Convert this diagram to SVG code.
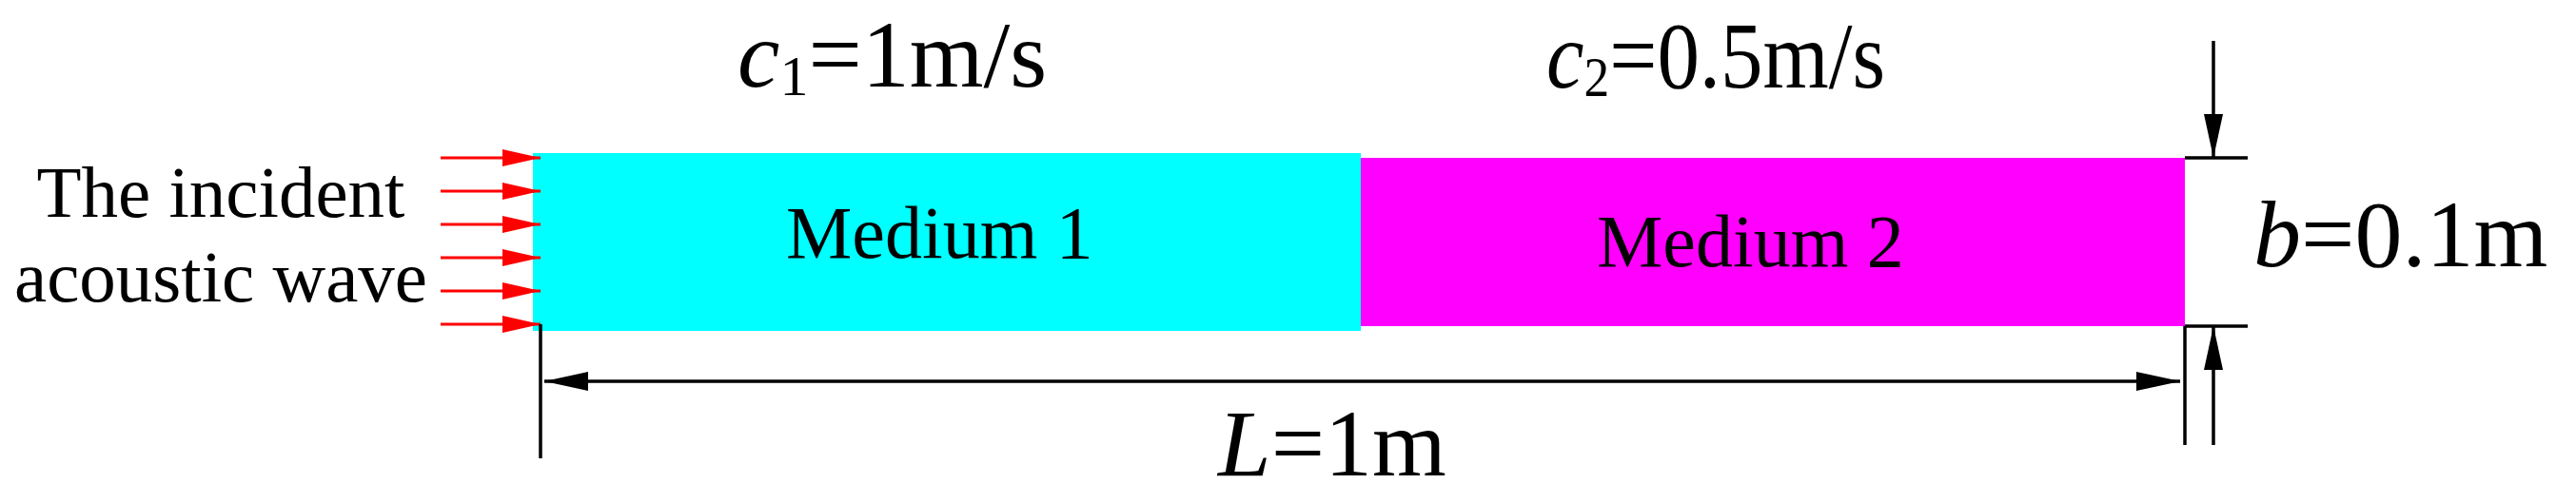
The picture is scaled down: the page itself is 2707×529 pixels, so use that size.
<svg xmlns="http://www.w3.org/2000/svg" width="2707" height="529" viewBox="0 0 2707 529">
<style>
text{font-family:"Liberation Serif","Times New Roman",serif;fill:#000}
.lbl{font-size:100px}
.med{font-size:78px}
.inc{font-size:77px}
.it{font-style:italic}
.dim{stroke:#000;stroke-width:3.5;fill:none}
.red{stroke:#ff0000;stroke-width:3;fill:none}
</style>
<defs>
<marker id="ahb" markerUnits="userSpaceOnUse" markerWidth="60" markerHeight="30" viewBox="-50 -15 55 30" refX="0" refY="0" orient="auto-start-reverse">
<path d="M0,0 L-46,-10 L-46,10 Z" fill="#000"/>
</marker>
<marker id="ahr" markerUnits="userSpaceOnUse" markerWidth="50" markerHeight="24" viewBox="-45 -12 48 24" refX="0" refY="0" orient="auto">
<path d="M0,0 L-40,-9 L-40,9 Z" fill="#ff0000"/>
</marker>
</defs>
<g id="medium1">
<rect x="560" y="161" width="870" height="187" fill="#00ffff"/>
<text class="med" x="826" y="271">Medium 1</text>
</g>
<g id="medium2">
<rect x="1430" y="166" width="866" height="177" fill="#ff00ff"/>
<text class="med" x="1678" y="280">Medium 2</text>
</g>
<g id="incident-label">
<text class="inc" x="232" y="228" text-anchor="middle">The incident</text>
<text class="inc" x="232" y="317" text-anchor="middle">acoustic wave</text>
</g>
<g id="speed-labels">
<text class="lbl" x="775" y="91"><tspan class="it">c</tspan><tspan font-size="60" dy="9">1</tspan><tspan dy="-9">=1m/s</tspan></text>
<text class="lbl" transform="translate(1625,92) scale(0.89,1)"><tspan class="it">c</tspan><tspan font-size="60" dy="9">2</tspan><tspan dy="-9">=0.5m/s</tspan></text>
</g>
<g id="dimension-labels">
<text class="lbl" x="2368" y="280"><tspan class="it">b</tspan>=0.1m</text>
<text class="lbl" x="1280" y="500"><tspan class="it">L</tspan>=1m</text>
</g>
<g id="connectors">
<g id="incident-arrows">
<line class="red" x1="463" y1="166" x2="568" y2="166" marker-end="url(#ahr)"/>
<line class="red" x1="463" y1="201" x2="568" y2="201" marker-end="url(#ahr)"/>
<line class="red" x1="463" y1="236" x2="568" y2="236" marker-end="url(#ahr)"/>
<line class="red" x1="463" y1="271" x2="568" y2="271" marker-end="url(#ahr)"/>
<line class="red" x1="463" y1="306" x2="568" y2="306" marker-end="url(#ahr)"/>
<line class="red" x1="463" y1="341" x2="568" y2="341" marker-end="url(#ahr)"/>
</g>
<line class="dim" x1="568" y1="341" x2="568" y2="482"/>
<line class="dim" x1="2296" y1="343" x2="2296" y2="468"/>
<line class="dim" x1="572" y1="401" x2="2291" y2="401" marker-start="url(#ahb)" marker-end="url(#ahb)"/>
<line class="dim" x1="2296" y1="166" x2="2362" y2="166"/>
<line class="dim" x1="2296" y1="343" x2="2362" y2="343"/>
<line class="dim" x1="2326" y1="43" x2="2326" y2="166" marker-end="url(#ahb)"/>
<line class="dim" x1="2326" y1="468" x2="2326" y2="343" marker-end="url(#ahb)"/>
</g>
</svg>
